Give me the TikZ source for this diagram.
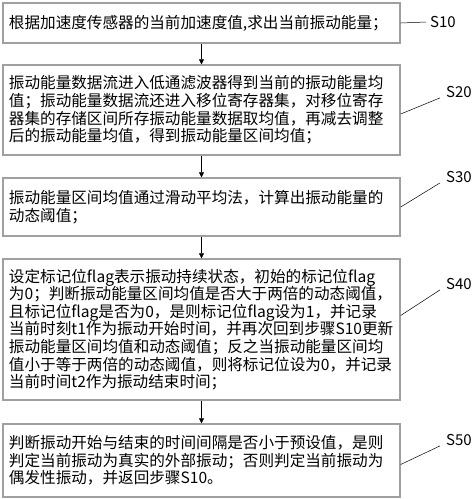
\documentclass[tikz,border=0pt]{standalone}
\usepackage{fontspec}
\setmainfont{Noto Sans CJK SC}
\usetikzlibrary{arrows.meta,positioning,calc}
\definecolor{Frame}{HTML}{A0A0A0}

\tikzset{
  stepbox/.style={draw=Frame,line width=1.4pt,fill=white,minimum width=397,
    text width=385,align=left,inner sep=0pt,
    font=\fontsize{15.6}{17.6}\selectfont},
  steplab/.style={font=\fontsize{15}{17}\selectfont,inner sep=0pt,anchor=west},
  flow/.style={-{Triangle[length=5pt,width=5pt]},line width=.5pt},
  tick/.style={line width=.5pt}
}

\begin{document}
\begin{tikzpicture}[x=1pt,y=-1pt]
\useasboundingbox (0,0) rectangle (474,499);
\node[stepbox,minimum height=40] (s10box) at (201.5,23) {根据加速度传感器的当前加速度值,求出当前振动能量；};
\node[stepbox,minimum height=90] (s20box) at (201.5,110) {振动能量数据流进入低通滤波器得到当前的振动能量均\\值；振动能量数据流还进入移位寄存器集，对移位寄存\\器集的存储区间所存振动能量数据取均值，再减去调整\\后的振动能量均值，得到振动能量区间均值；};
\node[stepbox,minimum height=58] (s30box) at (201.5,207) {振动能量区间均值通过滑动平均法，计算出振动能量的\\动态阈值；};
\node[stepbox,minimum height=141] (s40box) at (201.5,329.5) {设定标记位flag表示振动持续状态，初始的标记位flag\\为0；判断振动能量区间均值是否大于两倍的动态阈值，\\且标记位flag是否为0，是则标记位flag设为1，并记录\\当前时刻t1作为振动开始时间，并再次回到步骤S10更新\\振动能量区间均值和动态阈值；反之当振动能量区间均\\值小于等于两倍的动态阈值，则将标记位设为0，并记录\\当前时间t2作为振动结束时间；};
\node[stepbox,minimum height=73] (s50box) at (201.5,460.5) {判断振动开始与结束的时间间隔是否小于预设值，是则\\判定当前振动为真实的外部振动；否则判定当前振动为\\偶发性振动，并返回步骤S10。};
% step labels
\node[steplab] (s10lab) at (430,22) {S10};
\node[steplab] (s20lab) at (446,92) {S20};
\node[steplab] (s30lab) at (446,177) {S30};
\node[steplab] (s40lab) at (446,284) {S40};
\node[steplab] (s50lab) at (446,440) {S50};
% connectors
\draw[flow] (s10box) -- (s20box);
\draw[flow] (s20box) -- (s30box);
\draw[flow] (s30box) -- (s40box);
\draw[flow] (s40box) -- (s50box);
\draw[tick] (s10box.east) -- ($(s10lab.west)+(-4,0)$);
\draw[tick] ($(s20box.east)+(0,4)$) -- ($(s20lab.south west)+(-6,0)$);
\draw[tick] (s30box.east) -- ($(s30lab.south west)+(-6,0)$);
\draw[tick] ($(s40box.east)+(0,-14)$) -- ($(s40lab.south west)+(-6,0)$);
\draw[tick] ($(s50box.east)+(0,4)$) -- ($(s50lab.south west)+(-6,0)$);
\end{tikzpicture}
\end{document}
